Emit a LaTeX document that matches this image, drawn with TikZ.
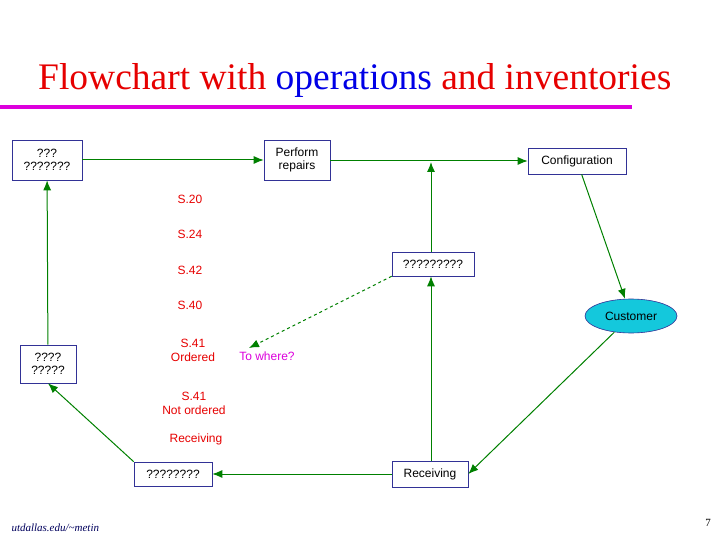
\documentclass[tikz,border=0pt]{standalone}
\usepackage{fontspec}
\setmainfont{Liberation Serif}
\setsansfont{Liberation Sans}
\usetikzlibrary{shapes.geometric,arrows.meta}
\definecolor{gr}{RGB}{0,128,0}
\definecolor{bx}{RGB}{50,50,150}
\definecolor{rd}{RGB}{230,0,0}
\definecolor{mg}{RGB}{220,0,220}
\definecolor{bl}{RGB}{0,0,230}
\definecolor{cy}{RGB}{20,200,220}
\begin{document}
\begin{tikzpicture}[x=1pt,y=-1pt,
  box/.style={draw=bx,line width=0.6pt,fill=white,font=\sffamily\fontsize{12}{13}\selectfont,align=center,inner sep=0pt},
  lab/.style={text=rd,font=\sffamily\fontsize{12}{14}\selectfont,align=center},
  ar/.style={draw=gr,line width=1pt,-{Latex[length=10pt,width=8pt]}}]
\useasboundingbox (0,0) rectangle (720,540);
\node[anchor=base west,font=\fontsize{37.5}{40}\selectfont,inner sep=0pt] (title) at (38,90) {\textcolor{rd}{Flowchart with}\ \textcolor{bl}{operations}\ \textcolor{rd}{and inventories}};
\coordinate (l1) at (0,107); \coordinate (l2) at (632,107);
\draw[mg,line width=3.5pt] (l1) -- (l2);
\node[box,minimum width=70pt,minimum height=40pt] (b1) at (47,160) {???\\???????};
\node[box,minimum width=66pt,minimum height=40pt] (pr) at (297,160) {Perform\\repairs};
\node[box,minimum width=98pt,minimum height=26pt] (cf) at (577,161) {Configuration};
\node[draw=bx,line width=0.6pt,fill=cy,ellipse,minimum width=92pt,minimum height=34pt,font=\sffamily\fontsize{12}{13}\selectfont] (cu) at (631,316) {Customer};
\node[box,minimum width=82pt,minimum height=24pt] (q9) at (433,264) {?????????};
\node[box,minimum width=56pt,minimum height=38pt] (b2) at (48,364) {????\\?????};
\node[box,minimum width=78pt,minimum height=24pt] (q8) at (173,474) {????????};
\node[box,minimum width=76pt,minimum height=26pt] (rc) at (430,474) {Receiving};
\node[lab] (s1) at (190,199) {S.20};
\node[lab] (s2) at (190,234) {S.24};
\node[lab] (s3) at (190,270) {S.42};
\node[lab] (s4) at (190,305) {S.40};
\node[lab] (s5) at (193,350) {S.41\\Ordered};
\node[lab] (s6) at (194,403) {S.41\\Not ordered};
\node[lab] (s7) at (196,439) {Receiving};
\node[text=mg,font=\sffamily\fontsize{12}{14}\selectfont] (tw) at (267,356) {To where?};
\coordinate (j) at (431,162);
\coordinate (dd) at (249,348);
\draw[ar] (b1) -- (pr);
\draw[ar] (pr.east |- cf) -- (cf);
\draw[ar] (cf) -- (cu);
\draw[ar] (cu) -- (rc.east);
\draw[ar] (rc.north -| 431,0) -- (q9.south -| 431,0);
\draw[ar] (q9.north -| 431,0) -- (j);
\draw[ar] (rc) -- (q8);
\draw[ar] (q8.north west) -- (b2.south);
\draw[ar] (b2) -- (b1);
\draw[ar,dashed] (q9.south west) -- (dd);
\node[anchor=base west,font=\itshape\fontsize{11}{12}\selectfont,text=bl!40!black] (ft) at (8,531) {utdallas.edu/\textasciitilde metin};
\node[anchor=base,font=\fontsize{11}{12}\selectfont] (pg) at (708,526) {7};
\end{tikzpicture}
\end{document}
